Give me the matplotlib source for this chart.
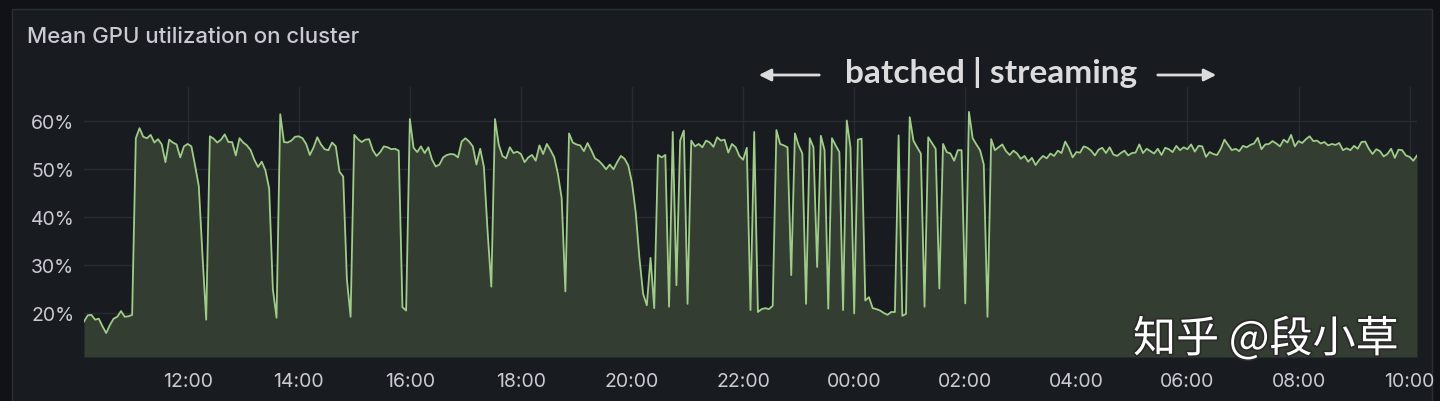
import numpy as np
import pandas as pd
import matplotlib
matplotlib.use("Agg")
import matplotlib.pyplot as plt
import matplotlib.dates as mdates
import matplotlib.patheffects as pe
from matplotlib.patches import Rectangle, FancyArrowPatch

# mean GPU utilisation (%), one sample every 4 minutes, starting 10:08
start_time = "2023-05-01 10:08"
step = "4min"

# batched period (10:08 -> ~02:30)
util_batched = [
    18.2, 19.5, 19.6, 18.6, 18.8, 17.2, 15.8, 17.5, 18.8, 19.2, 20.4, 19.2, 19.3, 19.6,
    56.5, 58.6, 56.8, 56.5, 57.2, 55.6, 56.3, 55.2, 51.5, 56.2, 55.6, 55.2, 52.5, 54.8,
    55.3, 54.8, 50.8, 46.5, 32.0, 18.6,
    56.9, 56.4, 55.6, 56.2, 57.3, 55.7, 55.7, 52.9, 56.5, 55.6, 55.0, 54.0, 52.0, 50.5,
    51.6, 49.8, 46.0, 25.0, 19.0,
    61.5, 55.7, 55.6, 56.0, 56.8, 56.9, 56.5, 55.3, 53.0, 54.6, 56.7, 55.2, 54.2, 54.0,
    55.6, 54.8, 49.5, 48.5, 27.0, 19.2,
    57.2, 56.3, 55.7, 56.2, 56.3, 54.0, 52.8, 53.6, 54.8, 54.6, 54.2, 54.3, 53.9, 21.2, 20.5,
    60.5, 54.5, 53.6, 54.8, 53.4, 54.6, 52.0, 50.6, 51.0, 52.5, 53.0, 53.2, 53.1, 52.5,
    55.8, 56.5, 55.8, 54.8, 51.0, 54.3, 50.5, 37.0, 25.5,
    60.5, 55.2, 52.8, 52.3, 54.6, 53.4, 53.7, 53.2, 51.5, 52.5, 53.0, 51.8, 55.0, 53.2,
    55.3, 54.0, 52.5, 49.0, 44.0, 24.5,
    57.5, 55.6, 55.2, 55.0, 53.8, 55.5, 54.0, 52.3, 51.8, 51.0, 50.0, 51.0, 50.0, 51.5,
    52.8, 52.2, 50.8, 47.2, 41.0, 31.5, 24.0, 21.6, 31.5, 21.0, 53.0, 52.5, 53.0,
    21.3, 57.8, 25.8, 56.0, 58.1, 21.9, 56.0, 54.8, 55.3, 54.6, 56.0, 55.6, 54.7, 56.7,
    56.0, 56.2, 53.5, 55.3, 54.6, 52.8, 52.0, 54.5,
    20.6, 57.8, 20.2, 20.8, 21.0, 20.8, 21.5, 58.2, 55.3, 55.0, 54.6, 27.9, 57.5, 55.0,
    53.3, 21.9, 56.5, 54.6, 29.6, 57.0, 54.0, 20.9, 56.5, 55.0, 53.6,
    20.6, 60.2, 54.6, 19.9, 56.2, 56.4, 22.6, 23.3, 21.0, 20.8, 20.5, 20.0, 19.6, 20.2,
    20.2, 57.1, 19.4, 19.8, 60.9, 56.0, 54.6, 53.3, 21.3, 56.7, 55.5, 54.3, 25.1, 55.3,
    53.6, 53.3, 51.8, 54.0, 54.0,
    22.0, 62.0, 56.5, 55.2, 54.0, 51.0, 19.2, 56.3,
]

# streaming period (~02:30 -> 10:08)
util_streaming = [
    54.0, 54.6, 55.2, 53.8, 53.0, 53.9, 53.3, 52.2, 52.8, 51.6, 52.4, 50.9, 52.0, 52.8,
    52.3, 53.3, 52.8, 53.9, 53.4, 55.8, 54.4, 52.5, 53.6, 53.5, 54.8, 54.5, 53.9, 52.9,
    54.1, 54.5, 53.4, 54.6, 53.1, 52.8, 53.4, 53.9, 52.9, 53.4, 53.5, 55.2, 53.4, 54.3,
    53.8, 53.3, 54.3, 53.0, 54.5, 54.2, 53.6, 54.9, 54.0, 54.6,
    54.2, 55.2, 53.7, 54.9, 54.8, 52.6, 53.6, 53.2, 53.0, 54.3, 56.2, 55.1, 54.0, 54.3,
    53.8, 54.9, 54.6, 55.1, 55.4, 56.6, 54.2, 55.2, 55.3, 55.9, 55.4, 54.8, 56.2, 55.6,
    57.2, 54.8, 55.9, 55.5, 56.3, 56.9, 55.9, 56.0, 55.4, 55.7, 55.0, 55.3, 55.1, 55.5,
    54.0, 54.4, 54.0, 54.9, 54.3, 55.7, 55.8, 54.3, 53.2, 54.2, 53.8, 52.7, 53.2, 54.3,
    52.4, 54.1, 54.0, 52.9, 52.6, 51.8, 52.9,
]

y_ticks = [20, 30, 40, 50, 60]
y_ticklabels = ["20%", "30%", "40%", "50%", "60%"]

util = np.array(util_batched + util_streaming)
times = pd.date_range(start_time, periods=len(util), freq=step)

# colours (grafana dark)
bg_outer = "#111217"
bg_panel = "#181b1f"
line_col = "#9fcc88"
fill_col = "#343d31"
grid_col = "#282b30"
text_col = "#c9cad3"

W, H = 1440, 402
fig = plt.figure(figsize=(W / 100, H / 100), dpi=100, facecolor=bg_outer)

panel = Rectangle((12 / W, -0.02), (1432 - 12) / W, 1 - 10 / H + 0.02,
                  transform=fig.transFigure, facecolor=bg_panel,
                  edgecolor="#2c2f36", linewidth=1, zorder=0)
fig.add_artist(panel)

ax = fig.add_axes([84 / W, 1 - 358 / H, (1417 - 84) / W, (358 - 88) / H])
ax.set_facecolor("none")
ax.set_zorder(2)

ax.fill_between(times, util, 10.8, color=fill_col, lw=0, zorder=2)
ax.plot(times, util, color=line_col, lw=1.3, zorder=3)

ax.set_xlim(times[0], times[-1])
ax.set_ylim(10.8, 67.2)

ax.set_yticks(y_ticks)
ax.set_yticklabels(y_ticklabels)
ax.xaxis.set_major_locator(mdates.HourLocator(byhour=range(0, 24, 2)))
ax.xaxis.set_major_formatter(mdates.DateFormatter("%H:%M"))

ax.grid(True, color=grid_col, lw=1, zorder=1)
ax.set_axisbelow(True)
for s in ax.spines.values():
    s.set_visible(False)
ax.tick_params(axis="both", length=0, colors=text_col, labelsize=14)
ax.tick_params(axis="y", pad=7)
ax.tick_params(axis="x", pad=11)
for lab in ax.get_xticklabels() + ax.get_yticklabels():
    lab.set_fontfamily("Inter")

# panel title
fig.text(27 / W, 1 - 37 / H, "Mean GPU utilization on cluster", color=text_col,
         fontsize=16, family="Inter", fontweight="medium", va="center", ha="left")

# batched | streaming note
fig.text(991 / W, 1 - 73 / H, "batched | streaming", color="#dcdcdc",
         fontsize=24, family="Lato", fontweight="bold", va="center", ha="center")
for x0, x1 in [(822, 756), (1155, 1219)]:
    arr = FancyArrowPatch((x0 / W, 1 - 76 / H), (x1 / W, 1 - 76 / H),
                          transform=fig.transFigure, arrowstyle="-|>",
                          mutation_scale=18, color="#dcdcdc", lw=2)
    fig.add_artist(arr)

# watermark
fig.text(1133 / W, 1 - 341 / H, "知乎 @段小草", color="white", fontsize=31,
         family=["Noto Sans CJK SC", "DejaVu Sans"], va="center", ha="left",
         zorder=10,
         path_effects=[pe.withStroke(linewidth=2.5, foreground="#2a2a2a")])

fig.savefig("out.png", dpi=100, facecolor=bg_outer)
